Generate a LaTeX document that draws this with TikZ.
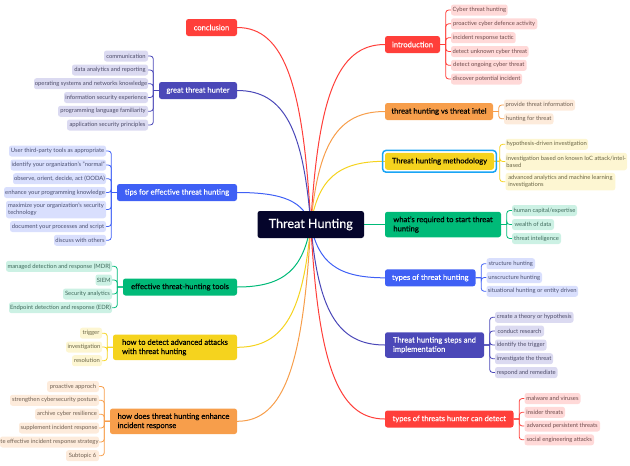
\documentclass[tikz,border=0pt]{standalone}
\usepackage{fontspec}
\setmainfont{Lato}
\usetikzlibrary{backgrounds,calc}
\definecolor{cred}{HTML}{FF3F3A}\definecolor{tred}{HTML}{FFD9D8}\definecolor{xred}{HTML}{6E4A4A}
\definecolor{cora}{HTML}{F79E4B}\definecolor{tora}{HTML}{FDEBDB}\definecolor{xora}{HTML}{6E5E50}
\definecolor{cyel}{HTML}{F5D31E}\definecolor{tyel}{HTML}{FDF6D2}\definecolor{xyel}{HTML}{6A6545}
\definecolor{cgrn}{HTML}{00BA78}\definecolor{tgrn}{HTML}{CCF1E4}\definecolor{xgrn}{HTML}{3F6A5C}
\definecolor{cblu}{HTML}{3F60F5}\definecolor{tblu}{HTML}{D9DFFD}\definecolor{xblu}{HTML}{4A4F70}
\definecolor{cind}{HTML}{4B48B8}\definecolor{tind}{HTML}{DBDAF1}\definecolor{xind}{HTML}{4C4B68}
\definecolor{cfrm}{HTML}{1AA5F5}\definecolor{cdark}{HTML}{05052B}
\tikzset{
 x=1pt,y=-1pt,
 base/.style={rounded corners=2.5pt,inner sep=0pt,align=left,anchor=center},
 leafbox/.style={base,fill=t#1,text=x#1,font=\fontsize{5.85}{6.9}\selectfont,rounded corners=2.5pt},
 mainbox/.style={base,fill=c#1,font=\fontsize{7.6}{9.2}\selectfont\addfontfeature{FakeBold=0.25}},
 lightlabel/.style={text=white},
 darklabel/.style={text=black},
 link/.style={draw=c#1,line width=1pt,line cap=round},
 twig/.style={draw=c#1,line width=0.8pt,rounded corners=3pt},
}
% name, colour, x1, x2, yc, h, text
\newcommand{\leafnode}[7]{\pgfmathsetmacro{\bw}{#4-#3}\pgfmathsetmacro{\bx}{(#4+#3)/2}%
 \node[leafbox=#2,minimum width=\bw pt,minimum height=#6pt] (#1) at (\bx,#5) {#7};}
\newcommand{\mainnode}[8]{\pgfmathsetmacro{\bw}{#5-#4}\pgfmathsetmacro{\bx}{(#5+#4)/2}%
 \node[mainbox=#2,#3,minimum width=\bw pt,minimum height=#7pt] (#1) at (\bx,#6) {#8};}
\newcommand{\spoke}[3]{\draw[link=#2] let \p1=(c.center),\p2=(#1.#3) in (\p1) .. controls (\x1+0.1*\x2-0.1*\x1,\y1+0.7*\y2-0.7*\y1) and (\x1+0.35*\x2-0.35*\x1,\y2) .. (\p2);}
\newcommand{\twigL}[3]{\draw[twig=#3] (#1.west) -- ++(-5.5,0) coordinate (j) (j) |- (#2.east);}
\newcommand{\twigR}[3]{\draw[twig=#3] (#1.east) -- ++(5.5,0) coordinate (j) (j) |- (#2.west);}
\begin{document}
\begin{tikzpicture}
\useasboundingbox (0,0) rectangle (630,466);
\node[base,fill=cdark,text=white,font=\fontsize{12.6}{14}\selectfont\addfontfeature{FakeBold=0.25},minimum width=106.5pt,minimum height=27pt] (c) at (310.75,224.5) {Threat Hunting};
% left side
\mainnode{concl}{red}{lightlabel}{186}{237}{27.5}{17}{conclusion}
\mainnode{great}{ind}{lightlabel}{159}{237}{90.5}{17}{great threat hunter}
\mainnode{tips}{blu}{lightlabel}{117}{237}{192.5}{17}{tips for effective threat hunting}
\mainnode{tools}{grn}{darklabel}{123}{237}{287}{17}{effective threat-hunting tools}
\mainnode{detect}{yel}{darklabel}{113}{237}{347.3}{25.5}{how to detect advanced attacks\\with threat hunting}
\mainnode{enh}{ora}{darklabel}{110}{237}{421.3}{25.5}{how does threat hunting enhance\\incident response}
% right side
\mainnode{intro}{red}{lightlabel}{385}{440}{44.5}{17}{introduction}
\mainnode{vs}{ora}{darklabel}{385}{493}{111.5}{17}{threat hunting vs threat intel}
\mainnode{meth}{yel}{darklabel}{385}{494}{161.3}{17}{Threat hunting methodology}
\mainnode{req}{grn}{darklabel}{385}{501}{224.5}{25.5}{what's required to start threat\\hunting}
\mainnode{types}{blu}{lightlabel}{385}{475.5}{277.8}{17}{types of threat hunting}
\mainnode{steps}{ind}{lightlabel}{385}{484}{345}{25.5}{Threat hunting steps and\\implementation}
\mainnode{det}{red}{lightlabel}{385}{513.5}{419}{17}{types of threats hunter can detect}
\draw[draw=cfrm,line width=1.5pt,rounded corners=3.5pt] ($(meth.south west)+(-2.2,2.2)$) rectangle ($(meth.north east)+(2.2,-2.2)$);
% leaves: great threat hunter
\leafnode{g1}{ind}{104}{148}{56}{11}{communication}
\leafnode{g2}{ind}{72}{148}{70}{11}{data analytics and reporting}
\leafnode{g3}{ind}{34}{148}{83.7}{11}{operating systems and networks knowledge}
\leafnode{g4}{ind}{64}{148}{97.5}{11}{information security experience}
\leafnode{g5}{ind}{58}{148}{111.3}{11}{programming language familiarity}
\leafnode{g6}{ind}{67}{148}{125}{11}{application security principles}
% tips
\leafnode{t1}{blu}{9}{106}{151}{11}{User third-party tools as appropriate}
\leafnode{t2}{blu}{10.5}{106}{165}{11}{identify your organization's "normal"}
\leafnode{t3}{blu}{13}{106}{178.7}{11}{observe, orient, decide, act (OODA)}
\leafnode{t4}{blu}{4}{106}{192.5}{11}{enhance your programming knowledge}
\leafnode{t5}{blu}{6}{106}{209.5}{17.5}{maximize your organization's security\\technology}
\leafnode{t6}{blu}{10}{106}{226.5}{11}{document your processes and script}
\leafnode{t7}{blu}{54}{106}{240.3}{11}{discuss with others}
% tools
\leafnode{e1}{grn}{6}{112}{266.3}{11}{managed detection and response (MDR)}
\leafnode{e2}{grn}{95.5}{112}{280}{11}{SIEM}
\leafnode{e3}{grn}{63}{112}{294}{11}{Security analytics}
\leafnode{e4}{grn}{9}{112}{307.7}{11}{Endpoint detection and response (EDR)}
% detect
\leafnode{a1}{yel}{80}{102}{333.2}{11}{trigger}
\leafnode{a2}{yel}{66}{102}{347}{11}{investigation}
\leafnode{a3}{yel}{72}{102}{360.7}{11}{resolution}
% enhance
\leafnode{h1}{ora}{47}{99}{386.5}{11}{proactive approch}
\leafnode{h2}{ora}{10}{99}{400.3}{11}{strengthen cybersecurity posture}
\leafnode{h3}{ora}{35}{99}{414.2}{11}{archive cyber resilience}
\leafnode{h4}{ora}{19}{99}{428}{11}{supplement incident response}
\leafnode{h5}{ora}{0}{99}{442}{11}{te effective incident response strategy}
\leafnode{h6}{ora}{66}{99}{455.7}{11}{Subtopic 6}
% introduction
\leafnode{i1}{red}{451}{507.7}{10}{11}{Cyber threat hunting}
\leafnode{i2}{red}{451}{537.3}{23.8}{11}{proactive cyber defence activity}
\leafnode{i3}{red}{451}{515.7}{37.7}{11}{incident response tactic}
\leafnode{i4}{red}{451}{528.7}{51.5}{11}{detect unknown cyber threat}
\leafnode{i5}{red}{451}{526.7}{65.3}{11}{detect ongoing cyber threat}
\leafnode{i6}{red}{451}{522}{79}{11}{discover potential incident}
% vs
\leafnode{v1}{ora}{504}{575}{105}{11}{provide threat information}
\leafnode{v2}{ora}{504}{553.5}{118.8}{11}{hunting for threat}
% methodology
\leafnode{m1}{yel}{505.5}{588}{144.3}{11}{hypothesis-driven investigation}
\leafnode{m2}{yel}{505.5}{627}{161.5}{17.5}{investigation based on known IoC attack/intel-\\based}
\leafnode{m3}{yel}{505.5}{615.3}{181.7}{17.5}{advanced analytics and machine learning\\investigations}
% required
\leafnode{r1}{grn}{512}{577}{210.5}{11}{human capital/expertise}
\leafnode{r2}{grn}{512}{554}{224.5}{11}{wealth of data}
\leafnode{r3}{grn}{512}{561}{238.5}{11}{threat inteligence}
% types
\leafnode{y1}{blu}{486.5}{535}{263.7}{11}{structure hunting}
\leafnode{y2}{blu}{486.5}{542}{277.5}{11}{unscructure hunting}
\leafnode{y3}{blu}{486.5}{578}{291.3}{11}{situational hunting or entity driven}
% steps
\leafnode{s1}{ind}{495}{573.5}{317.3}{11}{create a theory or hypothesis}
\leafnode{s2}{ind}{495}{544}{331}{11}{conduct research}
\leafnode{s3}{ind}{495}{546.5}{345}{11}{identify the trigger}
\leafnode{s4}{ind}{495}{553}{358.7}{11}{investigate the threat}
\leafnode{s5}{ind}{495}{557.5}{372.5}{11}{respond and remediate}
% threats
\leafnode{d1}{red}{524.5}{580.5}{398.5}{11}{malware and viruses}
\leafnode{d2}{red}{524.5}{565}{412.3}{11}{insider threats}
\leafnode{d3}{red}{524.5}{600}{426}{11}{advanced persistent threats}
\leafnode{d4}{red}{524.5}{594}{439.8}{11}{social engineering attacks}
\begin{pgfonlayer}{background}
\spoke{concl}{red}{east}\spoke{great}{ind}{east}\spoke{tips}{blu}{east}\spoke{tools}{grn}{east}\spoke{detect}{yel}{east}\spoke{enh}{ora}{east}
\spoke{intro}{red}{west}\spoke{vs}{ora}{west}\spoke{meth}{yel}{west}\spoke{req}{grn}{west}\spoke{types}{blu}{west}\spoke{steps}{ind}{west}\spoke{det}{red}{west}
\foreach \n in {g1,g2,g3,g4,g5,g6}{\twigL{great}{\n}{ind}}
\foreach \n in {t1,t2,t3,t4,t5,t6,t7}{\twigL{tips}{\n}{blu}}
\foreach \n in {e1,e2,e3,e4}{\twigL{tools}{\n}{grn}}
\foreach \n in {a1,a2,a3}{\twigL{detect}{\n}{yel}}
\foreach \n in {h1,h2,h3,h4,h5,h6}{\twigL{enh}{\n}{ora}}
\foreach \n in {i1,i2,i3,i4,i5,i6}{\twigR{intro}{\n}{red}}
\foreach \n in {v1,v2}{\twigR{vs}{\n}{ora}}
\foreach \n in {m1,m2,m3}{\twigR{meth}{\n}{yel}}
\foreach \n in {r1,r2,r3}{\twigR{req}{\n}{grn}}
\foreach \n in {y1,y2,y3}{\twigR{types}{\n}{blu}}
\foreach \n in {s1,s2,s3,s4,s5}{\twigR{steps}{\n}{ind}}
\foreach \n in {d1,d2,d3,d4}{\twigR{det}{\n}{red}}
\end{pgfonlayer}
\end{tikzpicture}
\end{document}
